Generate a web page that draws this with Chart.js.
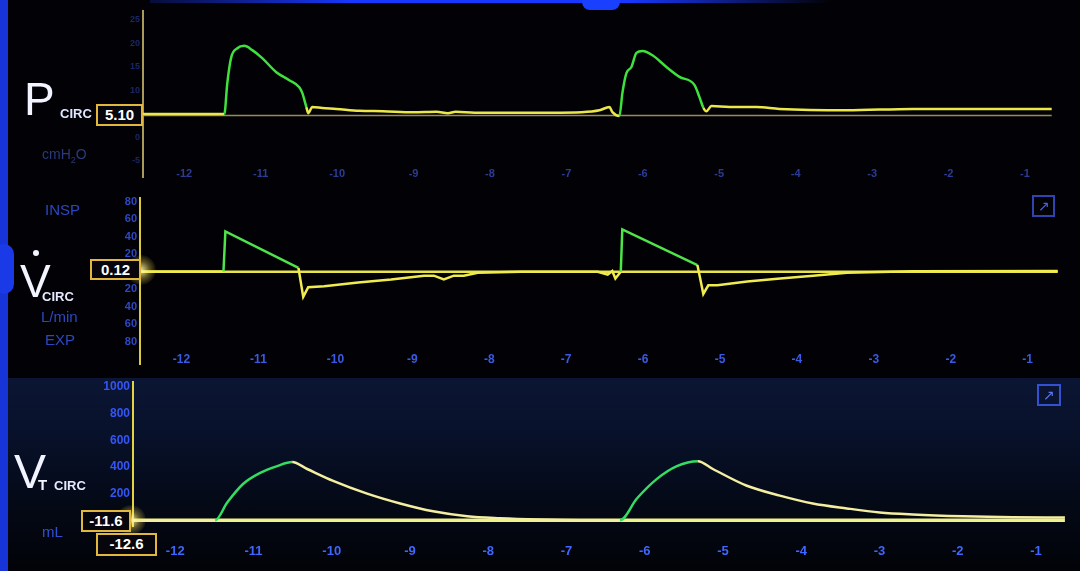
<!DOCTYPE html>
<html>
<head>
<meta charset="utf-8">
<script src="https://cdn.jsdelivr.net/npm/chart.js@4.4.1/dist/chart.umd.min.js"></script>
<style>
html, body { margin: 0; padding: 0; background: #000; }
#screen { position: relative; width: 1080px; height: 571px; overflow: hidden; background: #020206; font-family: "Liberation Sans", Arial, sans-serif; }
#screen canvas { position: absolute; left: 0; }
.lbl { position: absolute; white-space: nowrap; line-height: 1; }
.box { position: absolute; border: 2px solid #e2b83c; background: #06060c; color: #fff; font-weight: bold; font-size: 15px; text-align: center; box-sizing: border-box; line-height: 18px; }
.icon { position: absolute; box-sizing: border-box; border: 2px solid #2f44b0; color: #4a62d8; font-size: 14px; text-align: center; line-height: 18px; }
.glow { position: absolute; border-radius: 50%; background: radial-gradient(circle, rgba(255,250,170,0.9) 0%, rgba(255,230,90,0.35) 40%, rgba(255,220,60,0) 75%); }
</style>
</head>
<body>
<div id="screen">
  <div style="position:absolute;left:0;top:378px;width:1080px;height:193px;background:linear-gradient(180deg,#0b1634 0%,#08112a 30%,#040916 65%,#020308 100%);"></div>
  <div style="position:absolute;left:0;top:0;width:8px;height:571px;background:#1634d8;"></div>
  <div style="position:absolute;left:-6px;top:244px;width:20px;height:50px;border-radius:10px;background:#1a3ae8;"></div>
  <div style="position:absolute;left:150px;top:0;width:680px;height:3px;background:linear-gradient(90deg,rgba(24,56,255,0.2),#1838ff 30%,#1838ff 70%,rgba(24,56,255,0));"></div>
  <div style="position:absolute;left:582px;top:-6px;width:38px;height:16px;border-radius:8px;background:#1a40ff;"></div>

  <canvas id="pChart" width="1080" height="190" style="top:0px"></canvas>
  <canvas id="fChart" width="1080" height="190" style="top:185px"></canvas>
  <canvas id="vChart" width="1080" height="196" style="top:375px"></canvas>

  <div class="lbl" style="left:24px;top:76px;font-size:46px;color:#f2f4ff;">P</div>
  <div class="lbl" style="left:60px;top:107px;font-size:13px;font-weight:bold;color:#dfe6ff;">CIRC</div>
  <div class="lbl" style="left:42px;top:147px;font-size:14px;color:#2a3a7c;">cmH<sub style="font-size:9px">2</sub>O</div>

  <div class="lbl" style="left:45px;top:202px;font-size:15px;color:#2c48c0;">INSP</div>
  <div class="lbl" style="left:20px;top:258px;font-size:46px;color:#f2f4ff;">V</div>
  <div style="position:absolute;left:33px;top:250px;width:6px;height:6px;border-radius:3px;background:#f2f4ff;"></div>
  <div class="lbl" style="left:42px;top:290px;font-size:13px;font-weight:bold;color:#e6eaff;">CIRC</div>
  <div class="lbl" style="left:41px;top:309px;font-size:15px;color:#2c48c0;">L/min</div>
  <div class="lbl" style="left:45px;top:332px;font-size:15px;color:#2c48c0;">EXP</div>

  <div class="lbl" style="left:14px;top:448px;font-size:48px;color:#f2f4ff;">V</div>
  <div class="lbl" style="left:38px;top:477px;font-size:15px;font-weight:bold;color:#f2f4ff;">T</div>
  <div class="lbl" style="left:54px;top:479px;font-size:13px;font-weight:bold;color:#e6eaff;">CIRC</div>
  <div class="lbl" style="left:42px;top:524px;font-size:15px;color:#3050d0;">mL</div>

  <div class="glow" style="left:126px;top:255px;width:30px;height:30px;"></div>
  <div class="glow" style="left:116px;top:505px;width:30px;height:30px;"></div>

  <div class="box" style="left:96px;top:104px;width:47px;height:22px;">5.10</div>
  <div class="box" style="left:90px;top:259px;width:51px;height:21px;">0.12</div>
  <div class="box" style="left:81px;top:510px;width:50px;height:22px;">-11.6</div>
  <div class="box" style="left:96px;top:533px;width:61px;height:23px;">-12.6</div>

  <div class="icon" style="left:1032px;top:195px;width:23px;height:22px;">&#8599;</div>
  <div class="icon" style="left:1037px;top:384px;width:24px;height:22px;border-color:#3550d0;color:#5a74f0;">&#8599;</div>
</div>

<script>
// time axis (seconds before now)
const timeTicks = [-12, -11, -10, -9, -8, -7, -6, -5, -4, -3, -2, -1];

// airway pressure, cmH2O
const pressureTime = [-12.54, -11.476, -11.437, -11.385, -11.306, -11.215, -11.11, -10.98, -10.796, -10.626,
  -10.495, -10.456, -10.403, -10.377, -10.325, -10.194, -10.01, -9.71, -9.4, -9.0, -8.7, -8.55, -8.45, -8.2,
  -7.8, -7.2, -6.8, -6.568, -6.437, -6.398, -6.306, -6.267, -6.215, -6.149, -6.084, -6.005, -5.874, -5.691,
  -5.521, -5.325, -5.259, -5.207, -5.168, -5.102, -4.867, -4.513, -4.212, -3.335, -2.471, -1.5, -0.65];
const pressureValue = [4.9, 4.9, 11.5, 17, 18.9, 19.4, 18.5, 16.8, 13.8, 12.1,
  10.6, 9.4, 6.4, 5.1, 6.4, 6.2, 6.0, 5.6, 5.5, 5.3, 5.4, 5.1, 5.4, 5.2,
  5.2, 5.2, 5.3, 5.7, 6.4, 5.3, 4.5, 9.4, 13.6, 14.9, 17.9, 18.3, 17.4, 14.9,
  12.8, 11.1, 8.5, 6.2, 5.5, 6.6, 6.4, 6.4, 6.0, 5.7, 6.0, 6.0, 6.0];
const pressureTicks = [-5, 0, 10, 15, 20, 25];
const pressureInsp = [[-11.48, -10.42], [-6.31, -5.22]];

// circuit flow, L/min (expiration negative)
const flowTime = [-12.52, -11.455, -11.43, -10.48, -10.418, -10.353, -10.145, -9.704, -9.276, -8.848, -8.72,
  -8.59, -8.46, -8.33, -8.15, -7.59, -6.59, -6.46, -6.40, -6.36, -6.29, -6.27, -5.294, -5.255, -5.217,
  -5.152, -5.035, -4.646, -4.218, -3.79, -3.35, -2.49, -0.61];
const flowValue = [0.3, 0.3, 46, 4.4, -28.6, -17.6, -16.5, -12.1, -8.8, -4.4, -4.4,
  -8.8, -4.4, -4.4, -1.1, 0, 0, -3.3, 1, -7.7, 0, 48.4, 7.7, -8.8, -25.3,
  -15.4, -15.4, -11, -7.7, -4.4, -1.1, 0.5, 1];
const flowTicks = [-80, -60, -40, -20, 20, 40, 60, 80];
const flowInsp = [[-11.46, -10.47], [-6.285, -5.28]];

// tidal volume, mL
const volumeTime = [-12.54, -11.49, -11.336, -11.13, -10.914, -10.697, -10.506, -10.314, -9.982, -9.548, -9.126,
  -8.705, -8.27, -7.85, -7.34, -6.83, -6.317, -6.1, -5.844, -5.589, -5.32, -5.129, -4.695, -4.273, -3.852,
  -3.418, -2.996, -2.575, -1.936, -1.297, -0.63];
const volumeValue = [0, 0, 133, 274, 356, 407, 437, 385, 296, 200, 126,
  67, 30, 15, 5, 0, 0, 163, 311, 407, 444, 385, 259, 185, 126,
  89, 59, 44, 30, 22, 20];
const volumeTicks = [200, 400, 600, 800, 1000];
const volumeInsp = [[-11.5, -10.5], [-6.32, -5.31]];

const traceLines = {
  id: 'traceLines',
  beforeDatasetsDraw(chart, args, o) {
    const { ctx, chartArea } = chart;
    const y = chart.scales.y.getPixelForValue(o.base);
    ctx.save();
    ctx.strokeStyle = o.baseColor;
    ctx.lineWidth = o.baseWidth;
    ctx.beginPath();
    ctx.moveTo(chartArea.left, y);
    ctx.lineTo(chart.scales.x.getPixelForValue(o.baseEnd), y);
    ctx.stroke();
    ctx.strokeStyle = o.axisColor;
    ctx.lineWidth = 2;
    ctx.beginPath();
    ctx.moveTo(chartArea.left, o.axisTop);
    ctx.lineTo(chartArea.left, o.axisBottom);
    ctx.stroke();
    ctx.restore();
  }
};

function makePanel(id, p) {
  const pts = p.time.map((t, i) => ({ x: t, y: p.value[i] }));
  const inInsp = (ctx) => {
    const mid = (ctx.p0.parsed.x + ctx.p1.parsed.x) / 2;
    return p.insp.some(w => mid >= w[0] && mid <= w[1]);
  };
  return new Chart(document.getElementById(id), {
    type: 'line',
    data: {
      datasets: [{
        data: pts,
        borderWidth: p.lineWidth,
        borderColor: p.yellow,
        pointRadius: 0,
        tension: p.tension,
        cubicInterpolationMode: p.tension ? 'monotone' : 'default',
        segment: { borderColor: ctx => inInsp(ctx) ? p.green : p.yellow }
      }]
    },
    options: {
      responsive: false,
      animation: false,
      devicePixelRatio: 1,
      layout: { padding: { top: p.padTop, right: p.padRight, left: 0, bottom: 0 } },
      plugins: {
        legend: { display: false },
        tooltip: { enabled: false },
        traceLines: p.lines
      },
      scales: {
        x: {
          type: 'linear', min: -12.54, max: -0.45,
          grid: { display: false, drawTicks: false },
          border: { display: false },
          afterBuildTicks: s => { s.ticks = timeTicks.map(v => ({ value: v })); },
          afterFit: s => { s.height = p.xHeight; },
          ticks: { color: p.xColor, padding: p.xPad, font: { size: p.xSize, weight: 'bold', family: 'Liberation Sans' }, maxRotation: 0 }
        },
        y: {
          min: p.yMin, max: p.yMax,
          grid: { display: false, drawTicks: false },
          border: { display: false },
          afterBuildTicks: s => { s.ticks = p.yTicks.map(v => ({ value: v })); },
          afterFit: s => { s.width = p.axisX; },
          ticks: { color: p.yColor, padding: 3, font: { size: p.ySize, weight: 'bold', family: 'Liberation Sans' }, callback: p.yLabel }
        }
      }
    },
    plugins: [traceLines]
  });
}

makePanel('pChart', {
  time: pressureTime, value: pressureValue, insp: pressureInsp, yTicks: pressureTicks, yLabel: v => v,
  yMin: -5.5, yMax: 26.6, axisX: 143, padTop: 12, padRight: 13, xHeight: 27, xPad: 4,
  xColor: '#2c3c96', xSize: 11, yColor: '#1a2764', ySize: 9,
  green: '#3fe23c', yellow: '#ece84c', lineWidth: 2.5, tension: 0.4,
  lines: { base: 4.6, baseEnd: -0.65, baseColor: '#9a8a58', baseWidth: 1.5, axisColor: '#a89a5a', axisTop: 10, axisBottom: 178 }
});

makePanel('fChart', {
  time: flowTime, value: flowValue, insp: flowInsp, yTicks: flowTicks, yLabel: v => Math.abs(v),
  yMin: -88, yMax: 88, axisX: 140, padTop: 4, padRight: 10, xHeight: 26, xPad: 3,
  xColor: '#3a5ae6', xSize: 12, yColor: '#2c48c4', ySize: 11,
  green: '#4ee44a', yellow: '#f0ec50', lineWidth: 2.5, tension: 0,
  lines: { base: 0, baseEnd: -0.61, baseColor: '#e8e44a', baseWidth: 2.5, axisColor: '#d8cc3e', axisTop: 12, axisBottom: 180 }
});

makePanel('vChart', {
  time: volumeTime, value: volumeValue, insp: volumeInsp, yTicks: volumeTicks, yLabel: v => v,
  yMin: -118.5, yMax: 1014.8, axisX: 133, padTop: 8, padRight: 1, xHeight: 35, xPad: 8,
  xColor: '#3f66ff', xSize: 13, yColor: '#3555f4', ySize: 12,
  green: '#34dc62', yellow: '#f4eea0', lineWidth: 2.5, tension: 0.4,
  lines: { base: 0, baseEnd: -0.63, baseColor: '#eef28a', baseWidth: 3.5, axisColor: '#e2d244', axisTop: 6, axisBottom: 152 }
});
</script>
</body>
</html>
